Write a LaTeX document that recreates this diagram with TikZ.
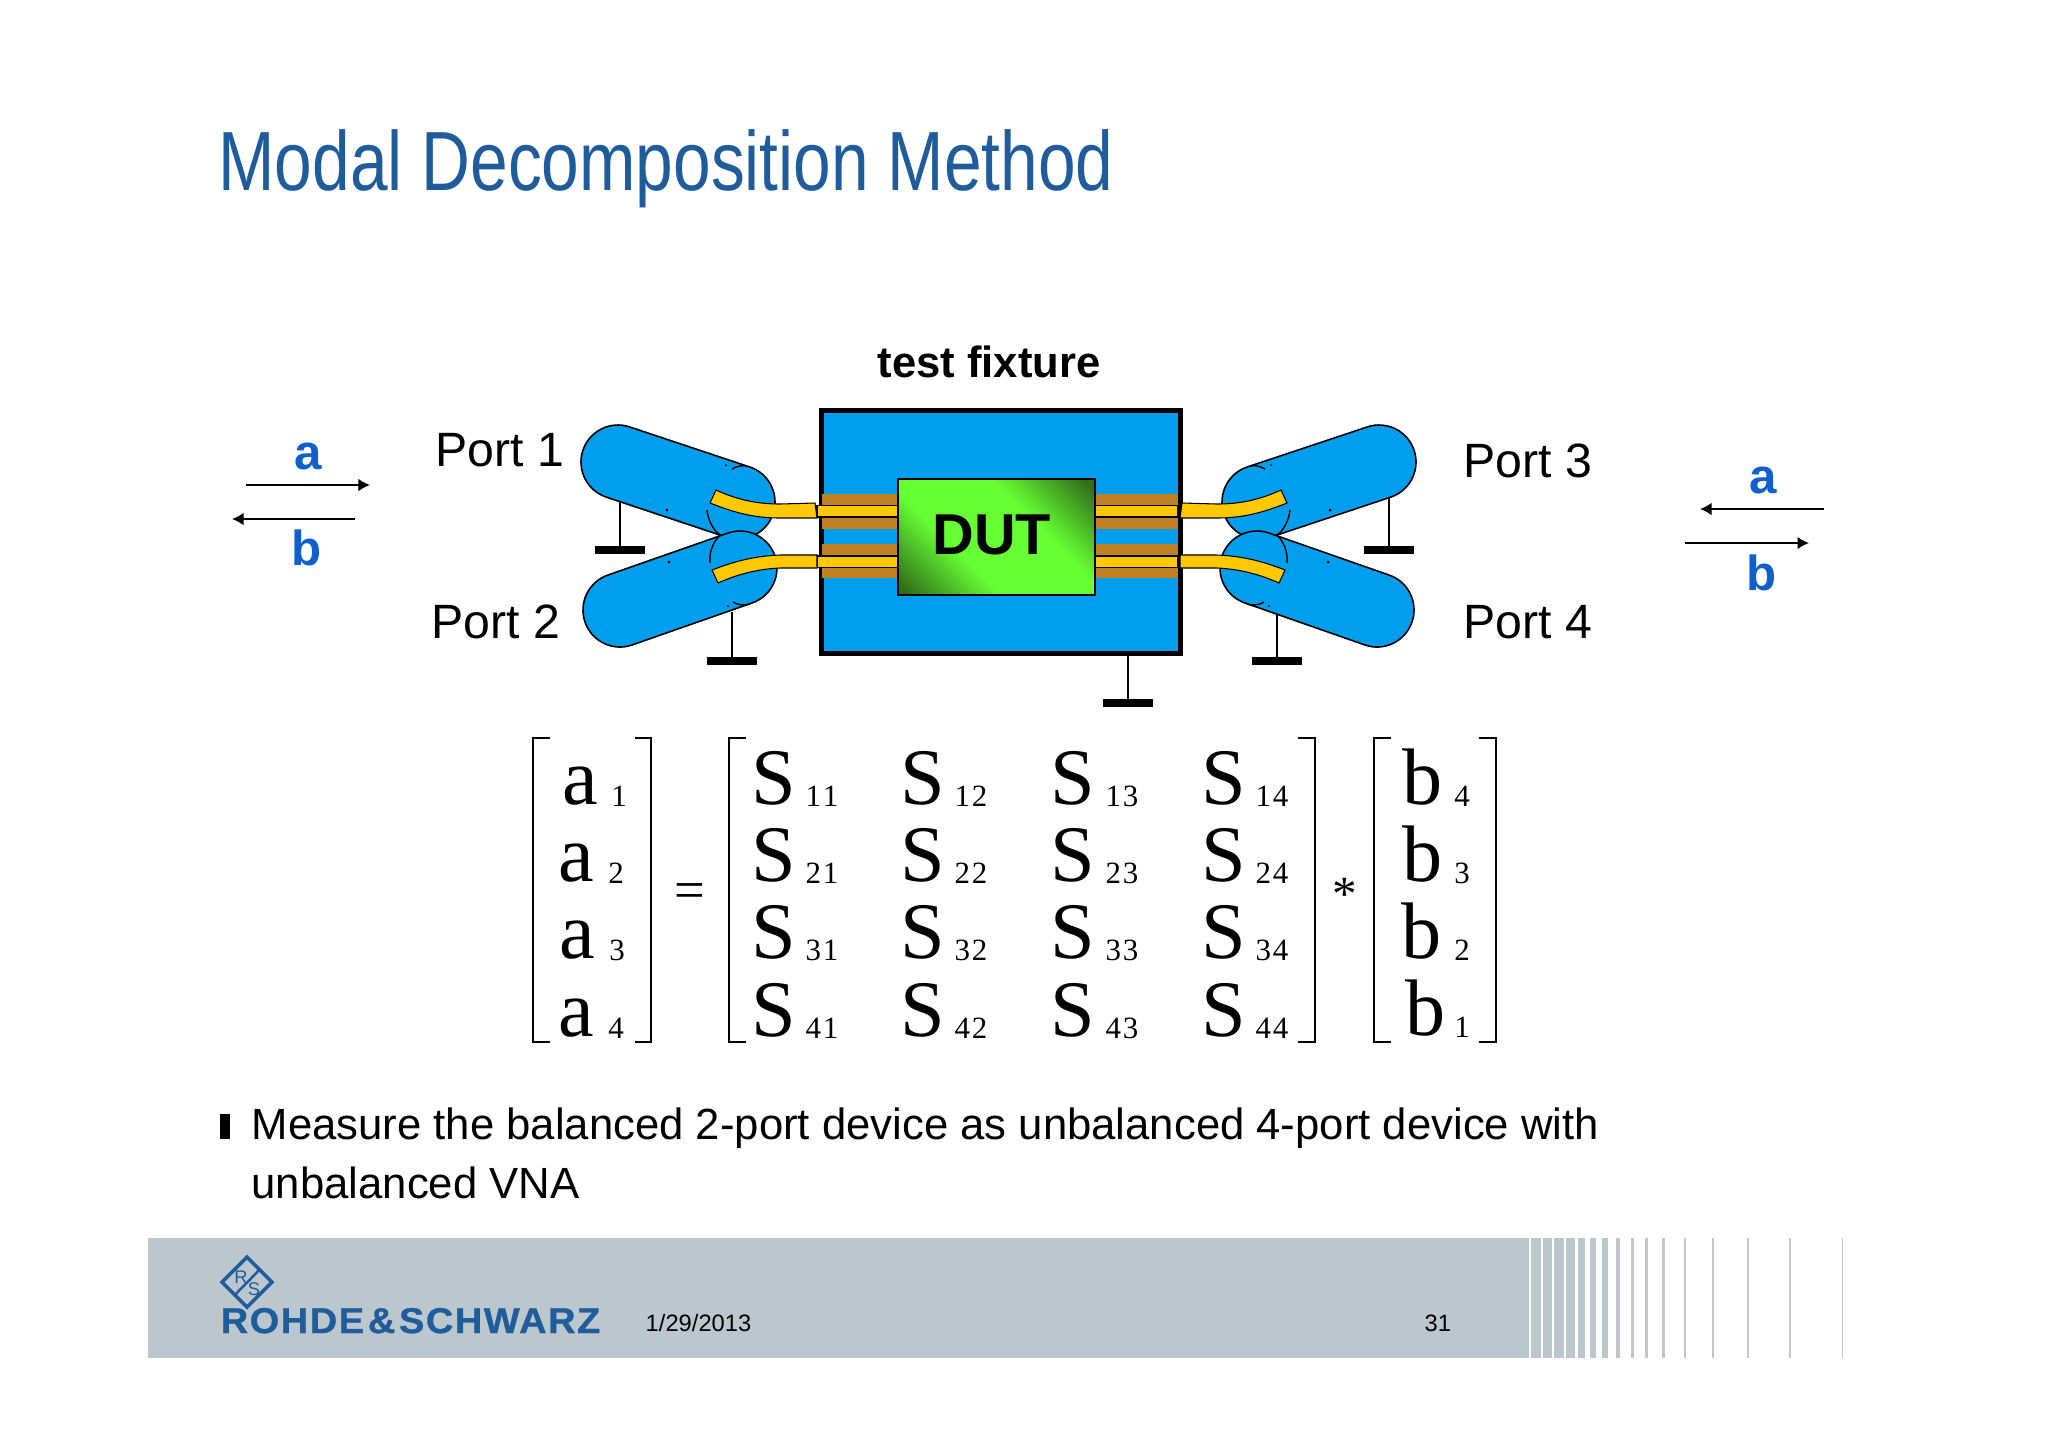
\documentclass[tikz,border=0pt]{standalone}
\usepackage{fontspec}
\setmainfont{Liberation Sans}
\newfontfamily\timesf{Liberation Serif}
\newfontfamily\logof[BoldFeatures={FakeBold=0.8},LetterSpace=4]{Liberation Sans}
\usetikzlibrary{calc, arrows.meta}
\definecolor{rsblue}{RGB}{30,92,155}
\definecolor{labelblue}{RGB}{15,95,205}
\definecolor{cableblue}{RGB}{0,158,236}
\definecolor{stripbrown}{RGB}{192,128,36}
\definecolor{wireyellow}{RGB}{255,200,0}
\definecolor{band}{RGB}{188,198,205}
\definecolor{dutlight}{RGB}{102,255,51}
\definecolor{dutdark}{RGB}{50,110,25}
\pgfdeclareverticalshading{dutshade}{100bp}{color(0bp)=(dutdark); color(17bp)=(dutdark); color(38bp)=(dutlight); color(62bp)=(dutlight); color(83bp)=(dutdark); color(100bp)=(dutdark)}
\tikzset{
x=0.01cm, y=-0.01cm, % one unit is one pixel of the slide
txt/.style={inner sep=0pt, anchor=base west},
port/.style={txt, font=\fontsize{13.7}{16}\selectfont},
wave/.style={inner sep=0pt, anchor=base, text=labelblue, font=\fontsize{14}{16}\bfseries\selectfont},
elem/.style={txt, font=\timesf\fontsize{22.8}{24}\selectfont},
elemsub/.style={txt, font=\timesf\fontsize{8.8}{10}\selectfont},
subcol/.style={inner sep=0pt, anchor=base, font=\timesf\fontsize{8.8}{10}\selectfont},
capsule/.style={draw=black, fill=cableblue, line width=0.45pt},
seam/.style={draw=black, line width=0.4pt},
wire/.style={draw=black, fill=wireyellow, line width=0.3pt},
stem/.style={line width=0.5pt},
groundbar/.style={line width=2.3pt},
brack/.style={line width=0.55pt},
flow/.style={line width=0.5pt, -{Latex[length=1.15mm, width=1.25mm]}},
}
% one tube, given its two cap centres and the axis angle
\newcommand{\tube}[3]{
  \draw[capsule] ($(#1)+(#3-90:37)$) -- ($(#2)+(#3-90:37)$)
    arc[start angle=#3-90, delta angle=180, radius=37]
    -- ($(#1)+(#3+90:37)$)
    arc[start angle=#3+90, delta angle=180, radius=37] -- cycle;
}
% the pair of cables on the left; the right pair is its mirror image
\newcommand{\cablepair}{
  \tube{618,462}{738,502}{18.4}
  \tube{620,610}{740,568}{-19.2}
  \draw[seam] (707,510) .. controls (708,520) and (713,530) .. (720,535);
  \draw[seam] (732,469) .. controls (737,466) and (742,465) .. (747,466);
  \draw[seam] (720,535) .. controls (713,542) and (709,552) .. (710,563);
  \draw[seam] (733,602) .. controls (738,605) and (744,606) .. (750,604);
  \fill (667,510) circle (1.5);
  \fill (669,562) circle (1.5);
  \fill (726,465) circle (1);
  \fill (728,606) circle (1);
  \draw[wire] (716,490) .. controls (740,501) and (760,504) .. (780,504) -- (815,503) -- (817,518) -- (780,518) .. controls (755,518) and (735,513) .. (710,503) -- cycle;
  \draw[wire] (712,570) .. controls (735,561) and (755,556) .. (780,555) -- (817,555) -- (817,568) -- (780,568) .. controls (758,569) and (738,574) .. (718,583) -- cycle;
}
\newcommand{\ground}[4]{
  \coordinate (#1top) at (#2,#3);
  \coordinate (#1foot) at (#2,#4);
  \draw[stem] (#1top) -- (#1foot);
  \draw[groundbar] ($(#1foot)+(-25,0)$) -- ($(#1foot)+(25,0)$);
}
\newcommand{\bracketl}[2]{\draw[brack] (#2,738) -- (#1,738) -- (#1,1042) -- (#2,1042);}

\begin{document}
\begin{tikzpicture}
    \useasboundingbox (0,0) rectangle (2048,1447);
    \fill[white] (0,0) rectangle (2048,1447);
    \node[txt, xscale=0.805, text=rsblue, font=\fontsize{23.9}{26}\selectfont] (title) at (218,190) {Modal Decomposition Method};

    % fixture
    \node[txt, font=\fontsize{12.4}{14}\bfseries\selectfont, anchor=base] (fixture) at (989,377) {test fixture};
    \draw[line width=1.4pt, fill=cableblue] (821.5,410.5) rectangle (1180.5,653.5);
    \foreach \xa/\xb in {822/898,1095/1178} {
      \fill[stripbrown] (\xa,494) rectangle (\xb,529);
      \fill[stripbrown] (\xa,544) rectangle (\xb,578);
    }
    \foreach \xa/\xb in {817/898,1095/1178} {
      \draw[wire] (\xa,505.5) rectangle (\xb,517);
      \draw[wire] (\xa,556) rectangle (\xb,567.5);
    }
    \draw[line width=0.5pt, shading=dutshade, shading angle=-45] (898,479) rectangle (1095,595);
    \node[txt, font=\fontsize{16.4}{18}\bfseries\selectfont] (dut) at (932,554) {DUT};

    \ground{gndone}{620}{500}{550}
    \ground{gndtwo}{732}{612}{661}
    \ground{gndbox}{1128}{656}{703}
    \ground{gndthree}{1389}{494}{550}
    \ground{gndfour}{1277}{611}{661}
    \cablepair
    \begin{scope}[shift={(1997,0)}, xscale=-1]
      \cablepair
    \end{scope}

    % ports and waves
    \node[port] (p1) at (435,466) {Port 1};
    \node[port] (p2) at (431,638) {Port 2};
    \node[port] (p3) at (1463,477) {Port 3};
    \node[port] (p4) at (1463,638) {Port 4};
    \node[wave] (al) at (308,469) {a};
    \node[wave] (bl) at (307,565) {b};
    \node[wave] (ar) at (1763,493) {a};
    \node[wave] (br) at (1762,590) {b};
    \coordinate (al1) at (246,485);
    \coordinate (al2) at (370,485);
    \coordinate (bl1) at (355,519);
    \coordinate (bl2) at (232,519);
    \coordinate (ar1) at (1824,509);
    \coordinate (ar2) at (1700,509);
    \coordinate (br1) at (1685,543);
    \coordinate (br2) at (1809,543);
    \draw[flow] (al1) -- (al2);
    \draw[flow] (bl1) -- (bl2);
    \draw[flow] (ar1) -- (ar2);
    \draw[flow] (br1) -- (br2);

    % matrix equation
    \foreach \r/\xa/\xs/\yb in {1/562/614/804,2/558/611/881,3/559/612/958,4/558/611/1036} {
      \node[elem] (a\r) at (\xa,\yb) {a};
      \node[subcol] (as\r) at (\xs+5,\yb+2) {\r};
    }
    \foreach \r/\yb in {1/804,2/881,3/958,4/1036} {
      \foreach \c/\xa/\xb in {1/751/805,2/900/954,3/1050/1105,4/1201/1255} {
        \node[elem] (S\r\c) at (\xa,\yb) {S};
        \node[elemsub] (sub\r\c) at (\xb,\yb+2) {\r\kern0.5pt\c};
      }
    }
    \foreach \r/\d/\xa in {1/4/1402,2/3/1402,3/2/1401,4/1/1405} {
      \node[elem] (b\r) at (\xa,{727+77*\r}) {b};
      \node[subcol] (bs\r) at (1462,{729+77*\r}) {\d};
    }
    \node[elem, anchor=center, font=\timesf\fontsize{15.5}{17}\selectfont] (eq) at (690,896) {=};
    \node[elem, anchor=center, font=\timesf\fontsize{14}{16}\selectfont] (star) at (1345,894) {*};
    \bracketl{533}{550}
    \bracketl{651}{635}
    \bracketl{729}{746}
    \bracketl{1315}{1298}
    \bracketl{1374}{1391}
    \bracketl{1496}{1479}

    % bullet text
    \fill (220,1114) rectangle (230,1139);
    \node[txt, font=\fontsize{12.42}{14}\selectfont] (line1) at (251,1139) {Measure the balanced 2-port device as unbalanced 4-port device with};
    \node[txt, font=\fontsize{12.42}{14}\selectfont] (line2) at (251,1198) {unbalanced VNA};

    % footer
    \fill[band] (148,1238) rectangle (1529,1358);
    \foreach \xa/\xb in {1531/1541,1543/1552,1554/1564,1566/1575,1578/1585,1590/1596,1602/1608,1616/1620} {
      \fill[band] (\xa,1238) rectangle (\xb,1358);
    }
    \foreach \xa/\xb in {1631/1634,1645/1648,1662/1665,1684/1686,1712/1713.5,1747/1749,1789/1790.5,1842/1843} {
      \fill[black!22] (\xa,1238) rectangle (\xb,1358);
    }
    \draw[rsblue, line width=1pt] (247,1257) -- (272,1282) -- (247,1307) -- (222,1282) -- cycle;
    \draw[rsblue, line width=0.7pt] (259,1270) .. controls (251,1279) and (243,1286) .. (235,1295);
    \node[inner sep=0pt, text=rsblue, font=\fontsize{5.2}{6}\selectfont] (logor) at (241,1277) {R};
    \node[inner sep=0pt, text=rsblue, font=\fontsize{5.2}{6}\selectfont] (logos) at (254,1289) {S};
    \node[txt, xscale=1.06, text=rsblue, font=\logof\fontsize{10.2}{12}\bfseries\selectfont] (logo) at (220,1333) {ROHDE\kern1pt\&\kern1pt SCHWARZ};
    \node[txt, font=\fontsize{6.75}{8}\selectfont] (date) at (645,1331) {1/29/2013};
    \node[txt, font=\fontsize{6.75}{8}\selectfont] (page) at (1424,1331) {31};
\end{tikzpicture}
\end{document}
